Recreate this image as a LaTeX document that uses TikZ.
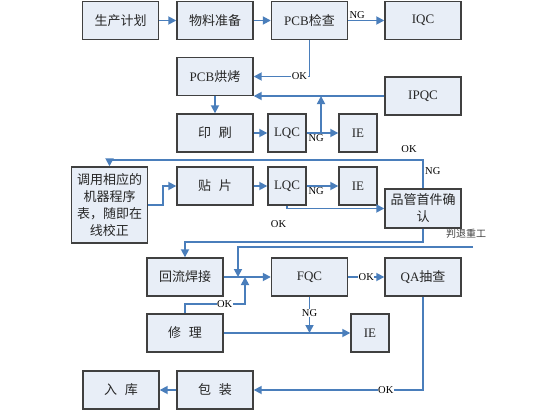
\documentclass[tikz,border=0pt]{standalone}
\usepackage{fontspec}
\setmainfont{Liberation Serif}
\newfontfamily\cjk{Noto Sans CJK SC}
\usetikzlibrary{arrows.meta}
\definecolor{lineblue}{HTML}{4A7EBB}
\definecolor{boxfill}{HTML}{E8EEF7}
\definecolor{boxdraw}{HTML}{404040}
\begin{document}
\begin{tikzpicture}[x=1pt,y=-1pt,
 box/.style={draw=boxdraw, fill=boxfill, line width=1.4pt, inner sep=0pt, align=center,
   minimum width=76pt, minimum height=38pt, font=\fontsize{13}{16.5}\selectfont, text=black!85},
 cbox/.style={box, font=\fontsize{13}{17}\selectfont\cjk},
 sbox/.style={box, minimum width=38pt},
 arr/.style={draw=lineblue, line width=1.7pt, -{Triangle[length=8pt,width=8pt]}},
 lbl/.style={font=\fontsize{10.5}{12}\selectfont, inner sep=1pt},
 wlbl/.style={lbl, fill=white, inner sep=0.5pt},
 clbl/.style={font=\fontsize{10}{12}\selectfont\cjk, inner sep=0pt, text=black!75},
]
\useasboundingbox (0,0) rectangle (560,410);
% row 1
\node[cbox] (jh) at (120.5,20.5) {生产计划};
\node[cbox] (wl) at (215,20.5) {物料准备};
\node[box] (pcbc) at (309.5,20.5) {PCB{\cjk 检查}};
\node[box] (iqc) at (423,20.5) {IQC};
% row 2
\node[box] (hk) at (215,76.5) {PCB{\cjk 烘烤}};
\node[box] (ipqc) at (423,96) {IPQC};
% row 3
\node[cbox] (ys) at (215,133) {印\hspace{0.6em}刷};
\node[sbox] (lqc1) at (287,133) {LQC};
\node[sbox] (ie1) at (358,133) {IE};
% row 4
\node[cbox, minimum height=76pt] (dy) at (109.5,205) {调用相应的\\机器程序\\表，随即在\\线校正};
\node[cbox] (tp) at (215,186) {贴\hspace{0.6em}片};
\node[sbox] (lqc2) at (287,186) {LQC};
\node[sbox] (ie2) at (358,186) {IE};
\node[cbox, minimum height=39pt] (pg) at (423,208.5) {品管首件确\\认};
% row 5
\node[cbox] (hl) at (185,277) {回流焊接};
\node[box] (fqc) at (309.5,277) {FQC};
\node[box] (qa) at (423,277) {QA{\cjk 抽查}};
% row 6
\node[cbox] (xl) at (185,333) {修\hspace{0.6em}理};
\node[sbox] (ie3) at (370,333) {IE};
% row 7
\node[cbox] (rk) at (121,390) {入\hspace{0.6em}库};
\node[cbox] (bz) at (215,390) {包\hspace{0.6em}装};

% junction coordinates
\coordinate (j1) at (321,133);
\coordinate (c1) at (423,160);
\coordinate (c2) at (423,242);
\coordinate (rw) at (473,247);
\coordinate (j2) at (238,277);
\coordinate (j3) at (245,277);
\coordinate (j4) at (309.5,333);

% connectors
\draw[arr] (jh) -- (wl);
\draw[arr] (wl) -- (pcbc);
\draw[arr] (pcbc) -- node[lbl, above, pos=0.25]{NG} (iqc);
\draw[arr] (pcbc.south) |- node[wlbl, pos=0.59]{OK} (hk.east);
\draw[arr] (ipqc.west) -- (ipqc.west -| hk.east);
\draw[arr] (j1) -- (j1 |- ipqc.west);
\draw[arr] (hk.south) -- (ys.north);
\draw[arr] (ys) -- (lqc1);
\draw[arr] (lqc1) -- node[lbl, below, inner sep=0.5pt, pos=0.3]{NG} (ie1);
\draw[arr] (pg.north) -- (c1) -| (dy.north);
\node[lbl, anchor=west] (ng3) at (424,171) {NG};
\node[lbl] (ok3) at (409,149) {OK};
\draw[arr] (dy.east) -- ++(15,0) |- (tp.west);
\draw[arr] (tp) -- (lqc2);
\draw[arr] (lqc2) -- node[lbl, below, inner sep=0.5pt, pos=0.3]{NG} (ie2);
\draw[arr] (lqc2.south) |- (pg.west);
\node[lbl] (ok4) at (278.5,224) {OK};
\draw[arr] (pg.south) -- (c2) -| (hl.north);
\draw[arr] (rw) -| (j2);
\node[clbl] (pt) at (466,234) {判退重工};
\draw[arr] (hl) -- (fqc);
\draw[arr] (xl.north) -- ++(0,-9) -| node[wlbl, pos=0.33]{OK} (j3);
\draw[arr] (fqc) -- node[wlbl]{OK} (qa);
\draw[arr] (fqc.south) -- node[wlbl, pos=0.45]{NG} (j4);
\draw[arr] (xl) -- (ie3);
\draw[arr] (qa.south) |- node[wlbl, pos=0.61]{OK} (bz.east);
\draw[arr] (bz) -- (rk);
\end{tikzpicture}
\end{document}
